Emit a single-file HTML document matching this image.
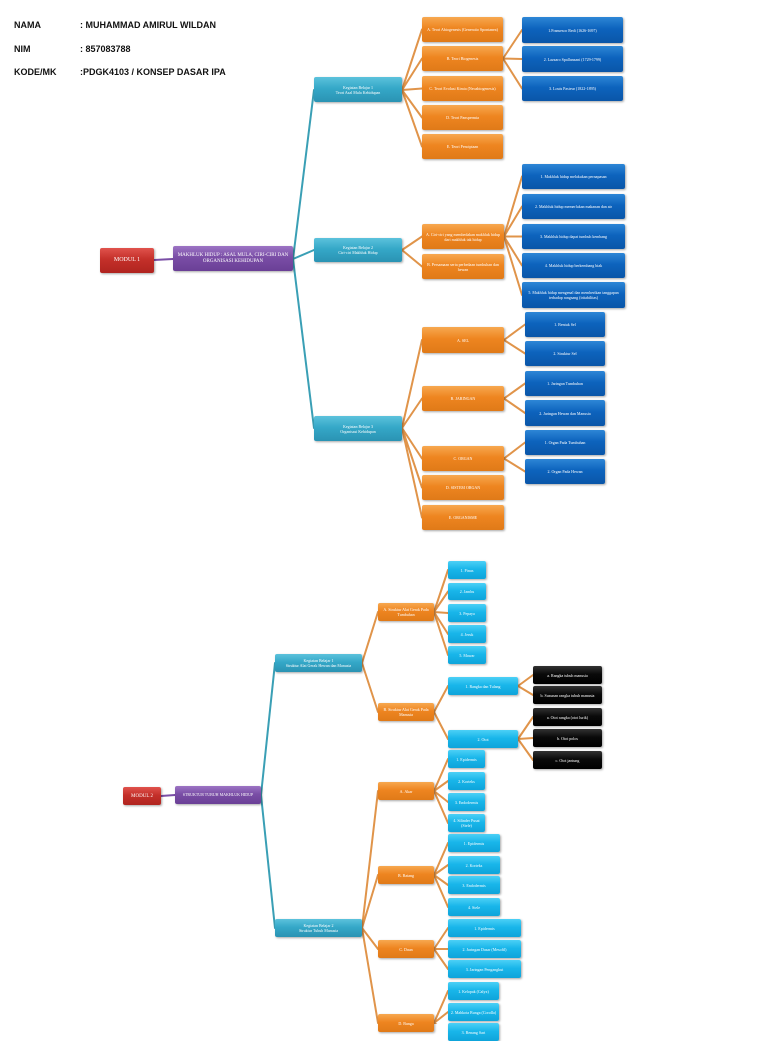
<!DOCTYPE html>
<html><head><meta charset="utf-8"><style>
body{margin:0;width:768px;height:1024px;background:#fff;position:relative;overflow:hidden;font-family:"Liberation Serif",serif}
.h{position:absolute;font:bold 9px "Liberation Sans",sans-serif;color:#111}
.b{position:absolute;box-sizing:border-box;display:flex;align-items:center;justify-content:center;text-align:center;color:#fff;font-size:4px;line-height:5px;border-radius:2px;box-shadow:1px 1px 2px rgba(0,0,0,.35);padding:0 2px;overflow:hidden}
.o{background:linear-gradient(#f7a850,#ee8520 45%,#e07a18)}
.bl{background:linear-gradient(#2d86d6,#0d63bd 45%,#0a56a8)}
.c{background:linear-gradient(#5cc2dc,#35a8c8 45%,#2a93b3)}
.lb{background:linear-gradient(#4cd0f6,#19b6ea 45%,#0ea4da)}
.p{background:linear-gradient(#9c74c4,#7a4ea6 45%,#6a3f96);font-size:5px;line-height:6px}
.r{background:linear-gradient(#e0524c,#c4302a 45%,#b0241f);font-size:6px}
.k{background:linear-gradient(#333,#0a0a0a 45%,#000)}
svg{position:absolute;left:0;top:0}
</style></head><body>
<div class="h" style="left:14px;top:20px">NAMA</div><div class="h" style="left:80px;top:20px">: MUHAMMAD AMIRUL WILDAN</div>
<div class="h" style="left:14px;top:44px">NIM</div><div class="h" style="left:80px;top:44px">: 857083788</div>
<div class="h" style="left:14px;top:67px">KODE/MK</div><div class="h" style="left:80px;top:67px">:PDGK4103 / KONSEP DASAR IPA</div>

<svg width="768" height="1024" fill="none" stroke-linecap="round">
<g stroke="#7a4ea6" stroke-width="2"><path d="M154 260L173 259M161 796L175 795"/></g>
<g stroke="#3a9fb5" stroke-width="2"><path d="M293 259L314 90M293 259L314 250M293 259L314 428M261 795L275 663M261 795L275 928"/></g>
<g stroke="#e0944a" stroke-width="2">
<path d="M402 90L422 29.5M402 90L422 58.5M402 90L422 88.5M402 90L422 117.5M402 90L422 146.5"/>
<path d="M503 58.5L522 30M503 58.5L522 59M503 58.5L522 88.5"/>
<path d="M402 250L422 236.5M402 250L422 266.5"/>
<path d="M504 236.5L522 176.5M504 236.5L522 206.5M504 236.5L522 236.5M504 236.5L522 265.5M504 236.5L522 295"/>
<path d="M402 428L422 340M402 428L422 398.5M402 428L422 458.5M402 428L422 487.5M402 428L422 517.5"/>
<path d="M504 340L525 324.5M504 340L525 353.5M504 398.5L525 383.5M504 398.5L525 413M504 458.5L525 442.5M504 458.5L525 471.5"/>
<path d="M362 663L378 612M362 663L378 712"/>
<path d="M434 612L448 570M434 612L448 591.5M434 612L448 613M434 612L448 634M434 612L448 655"/>
<path d="M434 712L448 686M434 712L448 739M518 686L533 675M518 686L533 695M518 739L533 717M518 739L533 738M518 739L533 760"/>
<path d="M362 928L378 791M362 928L378 875M362 928L378 949M362 928L378 1023"/>
<path d="M434 791L448 759M434 791L448 781M434 791L448 802M434 791L448 823"/>
<path d="M434 875L448 843M434 875L448 865M434 875L448 885M434 875L448 907"/>
<path d="M434 949L448 928M434 949L448 949M434 949L448 969M434 1023L448 991M434 1023L448 1012M434 1023L448 1032"/>
</g></svg>

<div class="b r" style="left:100px;top:248px;width:54px;height:25px">MODUL 1</div>
<div class="b p" style="left:173px;top:246px;width:120px;height:25px">MAKHLUK HIDUP : ASAL MULA, CIRI-CIRI DAN ORGANISASI KEHIDUPAN</div>
<div class="b c" style="left:314px;top:77px;width:88px;height:25px">Kegiatan Belajar 1<br>Teori Asal Mula Kehidupan</div>
<div class="b c" style="left:314px;top:238px;width:88px;height:24px">Kegiatan Belajar 2<br>Ciri-ciri Makhluk Hidup</div>
<div class="b c" style="left:314px;top:416px;width:88px;height:25px">Kegiatan Belajar 3<br>Organisasi Kehidupan</div>

<div class="b o" style="left:422px;top:17px;width:81px;height:25px">A. Teori Abiogenesis (Generatio Spontanea)</div>
<div class="b o" style="left:422px;top:46px;width:81px;height:25px">B. Teori Biogenesis</div>
<div class="b o" style="left:422px;top:76px;width:81px;height:25px">C. Teori Evolusi Kimia (Neoabiogenesis)</div>
<div class="b o" style="left:422px;top:105px;width:81px;height:25px">D. Teori Panspermia</div>
<div class="b o" style="left:422px;top:134px;width:81px;height:25px">E. Teori Penciptaan</div>
<div class="b bl" style="left:522px;top:17px;width:101px;height:26px">1.Fransesco Redi (1626-1697)</div>
<div class="b bl" style="left:522px;top:46px;width:101px;height:26px">2. Lazzaro Spallanzani (1729-1799)</div>
<div class="b bl" style="left:522px;top:76px;width:101px;height:25px">3. Louis Pasteur (1822-1895)</div>

<div class="b o" style="left:422px;top:224px;width:82px;height:25px">A. Ciri-ciri yang membedakan makhluk hidup dari makhluk tak hidup</div>
<div class="b o" style="left:422px;top:254px;width:82px;height:25px">B. Persamaan serta perbedaan tumbuhan dan hewan</div>
<div class="b bl" style="left:522px;top:164px;width:103px;height:25px">1. Makhluk hidup melakukan pernapasan</div>
<div class="b bl" style="left:522px;top:194px;width:103px;height:25px">2. Makhluk hidup memerlukan makanan dan air</div>
<div class="b bl" style="left:522px;top:224px;width:103px;height:25px">3. Makhluk hidup dapat tumbuh kembang</div>
<div class="b bl" style="left:522px;top:253px;width:103px;height:25px">4. Makhluk hidup berkembang biak</div>
<div class="b bl" style="left:522px;top:282px;width:103px;height:26px">5. Makhluk hidup mengenal dan memberikan tanggapan terhadap rangsang (iritabilitas)</div>

<div class="b o" style="left:422px;top:327px;width:82px;height:26px">A. SEL</div>
<div class="b o" style="left:422px;top:386px;width:82px;height:25px">B. JARINGAN</div>
<div class="b o" style="left:422px;top:446px;width:82px;height:25px">C. ORGAN</div>
<div class="b o" style="left:422px;top:475px;width:82px;height:25px">D. SISTEM ORGAN</div>
<div class="b o" style="left:422px;top:505px;width:82px;height:25px">E. ORGANISME</div>
<div class="b bl" style="left:525px;top:312px;width:80px;height:25px">1. Bentuk Sel</div>
<div class="b bl" style="left:525px;top:341px;width:80px;height:25px">2. Struktur Sel</div>
<div class="b bl" style="left:525px;top:371px;width:80px;height:25px">1. Jaringan Tumbuhan</div>
<div class="b bl" style="left:525px;top:400px;width:80px;height:26px">2. Jaringan Hewan dan Manusia</div>
<div class="b bl" style="left:525px;top:430px;width:80px;height:25px">1. Organ Pada Tumbuhan</div>
<div class="b bl" style="left:525px;top:459px;width:80px;height:25px">2. Organ Pada Hewan</div>

<div class="b r" style="left:123px;top:787px;width:38px;height:18px;font-size:5px">MODUL 2</div>
<div class="b p" style="left:175px;top:786px;width:86px;height:18px;font-size:4px">STRUKTUR TUBUH MAKHLUK HIDUP</div>
<div class="b c" style="left:275px;top:654px;width:87px;height:18px">Kegiatan Belajar 1<br>Struktur Alat Gerak Hewan dan Manusia</div>
<div class="b c" style="left:275px;top:919px;width:87px;height:18px">Kegiatan Belajar 2<br>Struktur Tubuh Manusia</div>
<div class="b o" style="left:378px;top:603px;width:56px;height:18px">A. Struktur Alat Gerak Pada Tumbuhan</div>
<div class="b o" style="left:378px;top:703px;width:56px;height:18px">B. Struktur Alat Gerak Pada Manusia</div>
<div class="b lb" style="left:448px;top:561px;width:38px;height:18px">1. Pinus</div>
<div class="b lb" style="left:448px;top:583px;width:38px;height:17px">2. Jambu</div>
<div class="b lb" style="left:448px;top:604px;width:38px;height:18px">3. Pepaya</div>
<div class="b lb" style="left:448px;top:625px;width:38px;height:18px">4. Jeruk</div>
<div class="b lb" style="left:448px;top:646px;width:38px;height:18px">5. Mawar</div>
<div class="b lb" style="left:448px;top:677px;width:70px;height:18px">1. Rangka dan Tulang</div>
<div class="b lb" style="left:448px;top:730px;width:70px;height:18px">2. Otot</div>
<div class="b k" style="left:533px;top:666px;width:69px;height:18px">a. Rangka tubuh manusia</div>
<div class="b k" style="left:533px;top:686px;width:69px;height:18px">b. Susunan rangka tubuh manusia</div>
<div class="b k" style="left:533px;top:708px;width:69px;height:18px">a. Otot rangka (otot lurik)</div>
<div class="b k" style="left:533px;top:729px;width:69px;height:18px">b. Otot polos</div>
<div class="b k" style="left:533px;top:751px;width:69px;height:18px">c. Otot jantung</div>

<div class="b o" style="left:378px;top:782px;width:56px;height:18px">A. Akar</div>
<div class="b o" style="left:378px;top:866px;width:56px;height:18px">B. Batang</div>
<div class="b o" style="left:378px;top:940px;width:56px;height:18px">C. Daun</div>
<div class="b o" style="left:378px;top:1014px;width:56px;height:18px">D. Bunga</div>
<div class="b lb" style="left:448px;top:750px;width:37px;height:18px">1. Epidermis</div>
<div class="b lb" style="left:448px;top:772px;width:37px;height:18px">2. Korteks</div>
<div class="b lb" style="left:448px;top:793px;width:37px;height:18px">3. Endodermis</div>
<div class="b lb" style="left:448px;top:814px;width:37px;height:18px">4. Silinder Pusat (Stele)</div>
<div class="b lb" style="left:448px;top:834px;width:52px;height:18px">1. Epidermis</div>
<div class="b lb" style="left:448px;top:856px;width:52px;height:18px">2. Korteks</div>
<div class="b lb" style="left:448px;top:876px;width:52px;height:18px">3. Endodermis</div>
<div class="b lb" style="left:448px;top:898px;width:52px;height:18px">4. Stele</div>
<div class="b lb" style="left:448px;top:919px;width:73px;height:18px">1. Epidermis</div>
<div class="b lb" style="left:448px;top:940px;width:73px;height:18px">2. Jaringan Dasar (Mesofil)</div>
<div class="b lb" style="left:448px;top:960px;width:73px;height:18px">3. Jaringan Pengangkut</div>
<div class="b lb" style="left:448px;top:982px;width:51px;height:18px">1. Kelopak (Calyx)</div>
<div class="b lb" style="left:448px;top:1003px;width:51px;height:18px">2. Mahkota Bunga (Corolla)</div>
<div class="b lb" style="left:448px;top:1023px;width:51px;height:18px">3. Benang Sari</div>
</body></html>
